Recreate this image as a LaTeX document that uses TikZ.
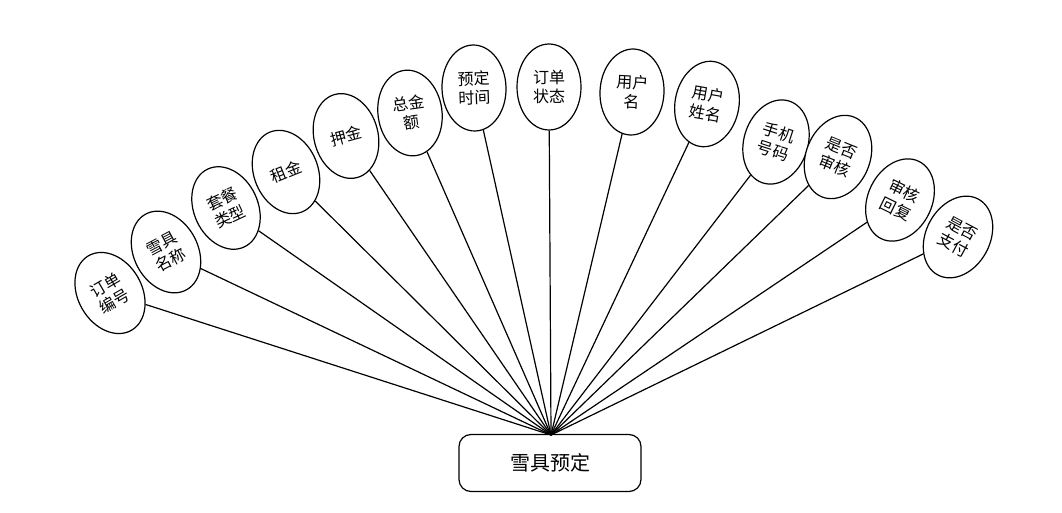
\documentclass[tikz,border=0pt]{standalone}
\usetikzlibrary{shapes.geometric}
\usepackage{fontspec}
\newfontfamily\cjk{Noto Sans CJK SC}
\begin{document}
\begin{tikzpicture}[x=1pt,y=-1pt,
  attr/.style={draw=black, fill=white, ellipse, line width=1.2pt, minimum width=64pt, minimum height=86pt, inner sep=0pt, align=center, font=\cjk\fontsize{16}{19}\selectfont}]

\useasboundingbox (0,0) rectangle (1062,513);

\node[draw=black, line width=1.2pt, rounded corners=12pt, minimum width=182pt, minimum height=57pt, font=\cjk\fontsize{20}{22}\selectfont] (YD) at (550,463) {雪具预定};
\coordinate (HUB) at (551,435);

\node[attr, rotate=30] (A1) at (110,293) {订单\\编号};
\node[attr, rotate=28] (A2) at (166,252) {雪具\\名称};
\node[attr, rotate=25] (A3) at (226,208) {套餐\\类型};
\node[attr, rotate=22] (A4) at (286,172) {租金};
\node[attr, rotate=15] (A5) at (346,136) {押金};
\node[attr, rotate=8]  (A6) at (410,113) {总金\\额};
\node[attr, rotate=2]  (A7) at (474,88)  {预定\\时间};
\node[attr, rotate=0]  (A8) at (549,87)  {订单\\状态};
\node[attr, rotate=-3] (A9) at (632,92)  {用户\\名};
\node[attr, rotate=-10] (A10) at (707,104) {用户\\姓名};
\node[attr, rotate=-18] (A11) at (776,142) {手机\\号码};
\node[attr, rotate=-22] (A12) at (838,157) {是否\\审核};
\node[attr, rotate=-26] (A13) at (900,200) {审核\\回复};
\node[attr, rotate=-28] (A14) at (958,237) {是否\\支付};

\foreach \i in {1,...,14}
  \draw[line width=1.2pt] (HUB) -- (A\i);

\end{tikzpicture}
\end{document}
